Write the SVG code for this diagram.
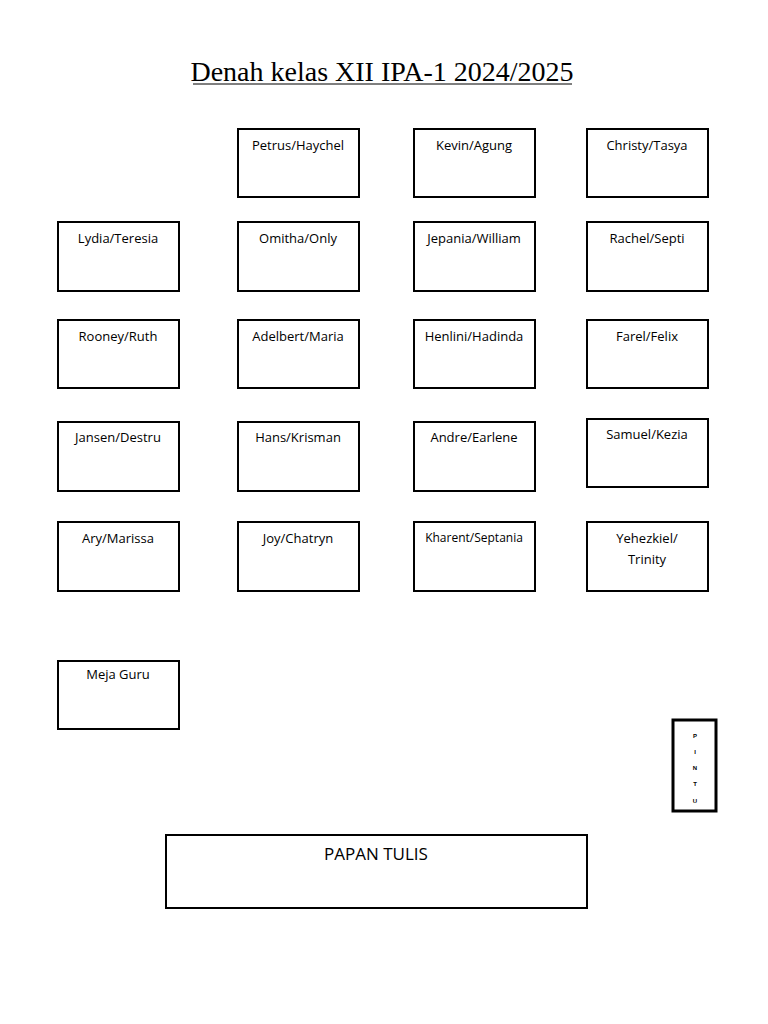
<svg xmlns="http://www.w3.org/2000/svg" width="768" height="1024" viewBox="0 0 768 1024">
<style>
.b{fill:#fff;stroke:#000;stroke-width:2}
.t{font-family:"Open Sans","Liberation Sans",sans-serif;font-size:13px;text-anchor:middle;fill:#000}
.p{font-family:"Liberation Sans",sans-serif;font-size:6px;text-anchor:middle;fill:#000;font-weight:bold}
</style>
<rect width="768" height="1024" fill="#fff"/>
<text x="382" y="81" font-family="Liberation Serif,serif" font-size="28" text-anchor="middle">Denah kelas XII IPA-1 2024/2025</text>
<line x1="193" y1="84" x2="572" y2="84" stroke="#000" stroke-width="1.2"/>
<g id="n1"><rect class="b" x="238" y="129" width="121" height="68"/><text class="t" x="298" y="150">Petrus/Haychel</text></g>
<g id="n2"><rect class="b" x="414" y="129" width="121" height="68"/><text class="t" x="474" y="150">Kevin/Agung</text></g>
<g id="n3"><rect class="b" x="587" y="129" width="121" height="68"/><text class="t" x="647" y="150">Christy/Tasya</text></g>
<g id="n4"><rect class="b" x="58" y="222" width="121" height="69"/><text class="t" x="118" y="243">Lydia/Teresia</text></g>
<g id="n5"><rect class="b" x="238" y="222" width="121" height="69"/><text class="t" x="298" y="243">Omitha/Only</text></g>
<g id="n6"><rect class="b" x="414" y="222" width="121" height="69"/><text class="t" x="474" y="243">Jepania/William</text></g>
<g id="n7"><rect class="b" x="587" y="222" width="121" height="69"/><text class="t" x="647" y="243">Rachel/Septi</text></g>
<g id="n8"><rect class="b" x="58" y="320" width="121" height="68"/><text class="t" x="118" y="341">Rooney/Ruth</text></g>
<g id="n9"><rect class="b" x="238" y="320" width="121" height="68"/><text class="t" x="298" y="341">Adelbert/Maria</text></g>
<g id="n10"><rect class="b" x="414" y="320" width="121" height="68"/><text class="t" x="474" y="341">Henlini/Hadinda</text></g>
<g id="n11"><rect class="b" x="587" y="320" width="121" height="68"/><text class="t" x="647" y="341">Farel/Felix</text></g>
<g id="n12"><rect class="b" x="58" y="422" width="121" height="69"/><text class="t" x="118" y="442">Jansen/Destru</text></g>
<g id="n13"><rect class="b" x="238" y="422" width="121" height="69"/><text class="t" x="298" y="442">Hans/Krisman</text></g>
<g id="n14"><rect class="b" x="414" y="422" width="121" height="69"/><text class="t" x="474" y="442">Andre/Earlene</text></g>
<g id="n15"><rect class="b" x="587" y="419" width="121" height="68"/><text class="t" x="647" y="439">Samuel/Kezia</text></g>
<g id="n16"><rect class="b" x="58" y="522" width="121" height="69"/><text class="t" x="118" y="543">Ary/Marissa</text></g>
<g id="n17"><rect class="b" x="238" y="522" width="121" height="69"/><text class="t" x="298" y="543">Joy/Chatryn</text></g>
<g id="n18"><rect class="b" x="414" y="522" width="121" height="69"/><text class="t" x="474" y="542" style="font-size:12px">Kharent/Septania</text></g>
<g id="n19"><rect class="b" x="587" y="522" width="121" height="69"/><text class="t" x="647" y="543">Yehezkiel/</text><text class="t" x="647" y="564">Trinity</text></g>
<g id="guru"><rect class="b" x="58" y="661" width="121" height="68"/><text class="t" x="118" y="679">Meja Guru</text></g>
<g id="pintu"><rect x="673" y="720" width="43" height="91" fill="#fff" stroke="#000" stroke-width="3"/>
<text class="p" x="695" y="738">P</text><text class="p" x="695" y="754">I</text><text class="p" x="695" y="770">N</text><text class="p" x="695" y="786">T</text><text class="p" x="695" y="803">U</text></g>
<g id="papan"><rect class="b" x="166" y="835" width="421" height="73"/><text class="t" x="376" y="860" style="font-size:17px">PAPAN TULIS</text></g>
<g id="connectors"/>
</svg>
